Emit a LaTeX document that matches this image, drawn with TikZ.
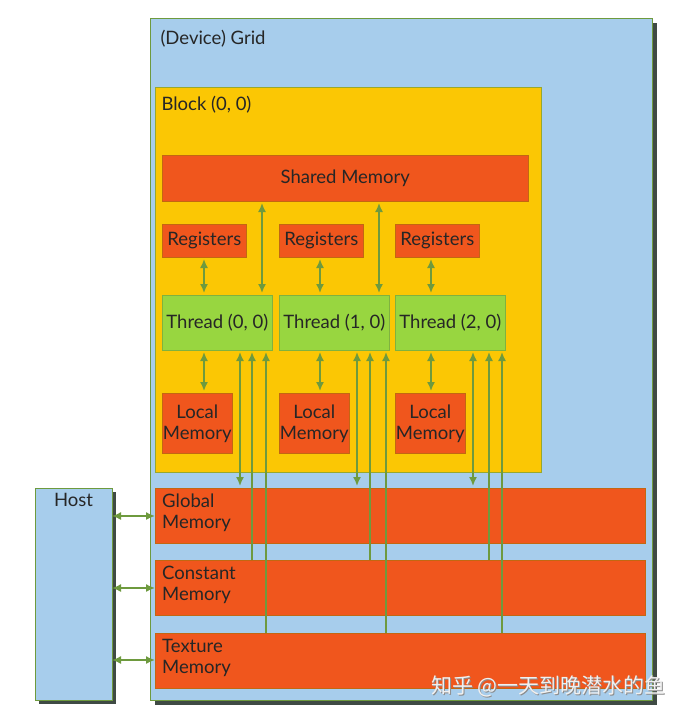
\documentclass[tikz,border=0pt]{standalone}
\usepackage{fontspec}
\setmainfont{Lato}
\newfontfamily\cjk{Noto Sans CJK SC}
\usetikzlibrary{arrows.meta}
\definecolor{gblue}{HTML}{A7CDEC}
\definecolor{gyel}{HTML}{FBC704}
\definecolor{gora}{HTML}{F0561D}
\definecolor{ggre}{HTML}{98D640}
\definecolor{garr}{HTML}{6E9A3E}
\definecolor{gshad}{HTML}{3F4A44}
\begin{document}
\begin{tikzpicture}[x=1pt,y=-1pt,
  mem/.style={fill=gora, draw=gora!60!olive, line width=0.6pt},
  lbl/.style={font=\fontsize{18.5}{20}\selectfont, text=black!85},
  two/.style={font=\fontsize{18.5}{21}\selectfont},
  wmk/.style={font=\cjk\fontsize{21}{23}\selectfont, anchor=east, inner sep=0pt},
  ar/.style={draw=garr, line width=1.6pt, {Latex[length=9pt,width=8pt]}-{Latex[length=9pt,width=8pt]}},
  au/.style={draw=garr, line width=1.6pt, -{Latex[length=9pt,width=8pt]}},
  ln/.style={draw=garr, line width=1.6pt}]
\useasboundingbox (0,0) rectangle (681,715);
\fill[white] (0,0) rectangle (681,715);
% shadows
\fill[gshad] (155,23) rectangle (657,705);
\fill[gshad] (39,492) rectangle (116,704);
% grid
\fill[gblue, draw=garr, line width=0.5pt] (150,18) rectangle (652,700);
\node[lbl, anchor=north west] (grid) at (157,27) {(Device) Grid};
% host
\fill[gblue, draw=garr, line width=0.5pt] (35,488) rectangle (112,700);
\node[lbl, anchor=north] (hostl) at (73.5,490) {Host};
\coordinate (host1) at (112,516);
\coordinate (host2) at (112,588);
\coordinate (host3) at (112,660);
% block
\fill[gyel, draw=garr!70!gyel, line width=0.5pt] (155,87) rectangle (541,472);
\node[lbl, anchor=north west] (blk) at (158,93) {Block (0, 0)};
% shared
\node[mem, lbl, minimum width=366, minimum height=46, anchor=north west] (sh) at (162,155) {Shared Memory};
% registers, threads, locals
\foreach \i/\x in {0/162,1/279,2/395}{
  \node[mem, lbl, minimum width=84, minimum height=33, anchor=north west, inner sep=0pt] (r\i) at (\x,224) {Registers};
  \node[fill=ggre, draw=garr!60!ggre, line width=0.6pt, lbl, minimum width=110, minimum height=55, anchor=north west, inner sep=0pt] (t\i) at (\x,295) {Thread (\i, 0)};
  \node[mem, lbl, two, minimum width=70, minimum height=60, anchor=north west, align=center, inner sep=0pt] (l\i) at (\x,393) {Local\\Memory};
}
% global, constant, texture
\node[mem, minimum width=490, minimum height=55, anchor=north west] (gm) at (155,488) {};
\node[lbl, two, anchor=north west, align=left, inner sep=0pt] at (162,494) {Global\\Memory};
\node[mem, minimum width=490, minimum height=55, anchor=north west] (cm) at (155,560) {};
\node[lbl, two, anchor=north west, align=left, inner sep=0pt] at (162,566) {Constant\\Memory};
\node[mem, minimum width=490, minimum height=55, anchor=north west] (tm) at (155,633) {};
\node[lbl, two, anchor=north west, align=left, inner sep=0pt] at (162,639) {Texture\\Memory};
% arrows
\foreach \i/\x in {0/204,1/320,2/431}{
  \draw[ar] (\x,259) -- (\x,293);
  \draw[ar] (\x,352) -- (\x,391);
}
\draw[ar] (262,203) -- (262,293);
\draw[ar] (379,203) -- (379,293);
\foreach \a/\b/\c/\i in {240/252/266/0,357/370/386/1,473/489/502/2}{
  \draw[ar] (\a,352) -- (\a,486);
  \draw[au] (\b,560) -- (\b,352);
  \draw[au] (\c,633) -- (\c,352);
}
\draw[ar] (host1) -- (gm.west |- host1);
\draw[ar] (host2) -- (cm.west |- host2);
\draw[ar] (host3) -- (tm.west |- host3);
\node[wmk, text=black!45] (wms) at (667,687.5) {知乎 @一天到晚潜水的鱼};
\node[wmk, text=white!94!black] (wm) at (666,686) {知乎 @一天到晚潜水的鱼};
\end{tikzpicture}
\end{document}
